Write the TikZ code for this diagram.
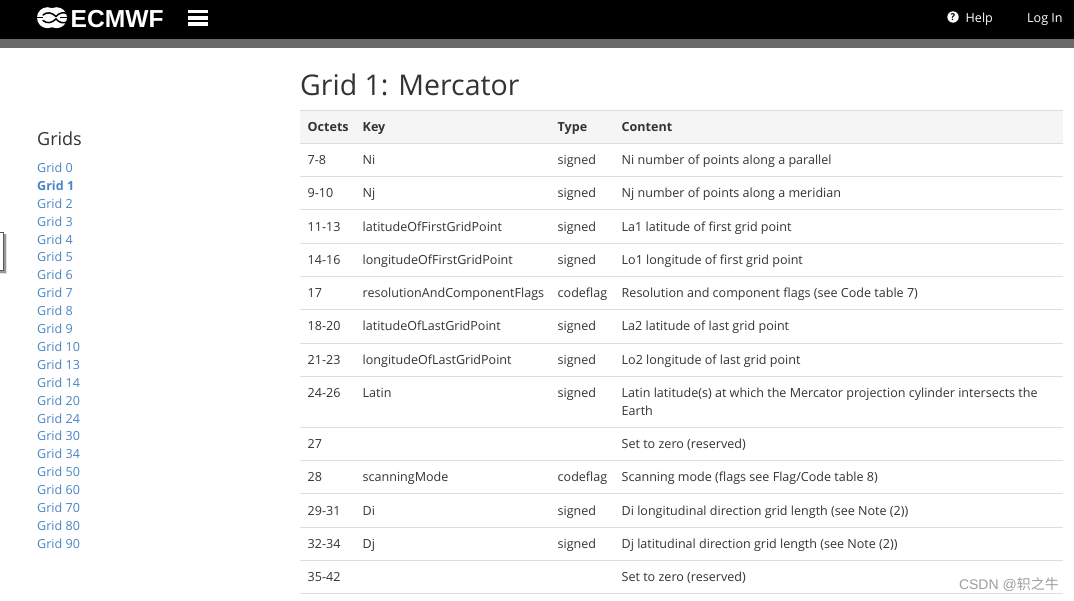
\documentclass[tikz,border=0pt]{standalone}
\usepackage{fontspec}
\setmainfont{Open Sans}
\newfontfamily\wmfont{Liberation Sans}
\newfontfamily\cjkfont{Noto Sans CJK SC}
\definecolor{txt}{HTML}{333333}
\definecolor{lnk}{HTML}{4A86C5}
\definecolor{rule}{HTML}{DDDDDD}
\definecolor{headbg}{HTML}{F5F5F5}
\definecolor{band}{HTML}{6A6A6A}
\tikzset{
  cell/.style={anchor=base west,inner sep=0pt,font=\fontsize{12.55}{13}\selectfont,text=txt},
  headcell/.style={cell,font=\fontsize{12.55}{13}\selectfont\bfseries},
  sidelink/.style={anchor=base west,inner sep=0pt,font=\fontsize{12.55}{13}\selectfont,text=lnk},
  toplink/.style={anchor=base west,inner sep=0pt,font=\fontsize{12.55}{13}\selectfont,text=white},
  tablerule/.style={draw=rule,line width=1pt}
}
\begin{document}
\begin{tikzpicture}[x=1pt,y=-1pt]
\useasboundingbox (0,0) rectangle (1074,600);
\fill[white] (0,0) rectangle (1074,600);
\fill[black] (0,0) rectangle (1074,39);
\fill[band] (0,39) rectangle (1074,48);
% logo
\fill[white] (47.5,17.7) circle (10.5);
\fill[white] (56.5,17.7) circle (10.5);
\draw[black,line width=1.5pt,line cap=round] (43,15) .. controls (47,11.5) and (52,12.5) .. (56,16.5) .. controls (59,13) and (63,11.5) .. (68,14);
\draw[black,line width=1.5pt,line cap=round] (43,20.5) .. controls (47,24) and (52,23) .. (56,19) .. controls (59,22.5) and (63,24) .. (68,21.5);
\fill[black] (36,17) rectangle (43,18.2);
\fill[black] (60,17) rectangle (68,18.2);
\node[anchor=base west,inner sep=0pt,text=white,font=\wmfont\bfseries\fontsize{24.6}{25}\selectfont] (brand) at (70.5,27) {ECMWF};
% hamburger
\fill[white] (188,9.5) rectangle (207.5,13);
\fill[white] (188,16) rectangle (207.5,19.5);
\fill[white] (188,22) rectangle (207.5,25.5);
% top links
\fill[white] (953,17) circle (5.7);
\node[inner sep=0pt,text=black,font=\fontsize{9.5}{9.5}\selectfont\bfseries] (helpicon) at (953,17) {?};
\node[toplink] (help) at (965.5,22) {Help};
\node[toplink] (login) at (1027,22) {Log In};
% heading
\node[anchor=base west,inner sep=0pt,text=txt,font=\fontsize{28.5}{30}\selectfont] (title) at (300,95) {Grid 1: Mercator};
% sidebar
\node[anchor=base west,inner sep=0pt,text=txt,font=\fontsize{18}{18}\selectfont] (grids) at (37,145) {Grids};
\foreach \lab [count=\i from 0] in {0,1,2,3,4,5,6,7,8,9,10,13,14,20,24,30,34,50,60,70,80,90}{
  \pgfmathsetmacro{\yy}{172.4+17.9*\i}
  \ifnum\i=1
    \node[sidelink,font=\fontsize{12.55}{13}\selectfont\bfseries] (g\i) at (37,\yy) {Grid \lab};
  \else
    \node[sidelink] (g\i) at (37,\yy) {Grid \lab};
  \fi
}
% stray window edge
\fill[black!12] (0,271) rectangle (7,274);
\fill[black!12] (4,234) rectangle (7,274);
\fill[black!40] (4,234) rectangle (5.5,272.5);
\fill[black!40] (0,271) rectangle (5.5,272.5);
\fill[black!65] (3.2,232) rectangle (4.4,271);
\fill[black!65] (0,270) rectangle (4.4,271);
\fill[black!65] (0,231.5) rectangle (4.4,232.5);
% table
\fill[headbg] (300,110) rectangle (1063,143);
\foreach \yy in {110.5,143.5,176.5,209.5,243.5,276.5,309.5,343.5,376.5,427.5,460.5,493.5,527.5,560.5,593.5}{
  \draw[tablerule] (300,\yy) -- (1063,\yy);
}
\node[headcell] at (307.5,131) {Octets};
\node[headcell] at (362.5,131) {Key};
\node[headcell] at (557.5,131) {Type};
\node[headcell] at (621.5,131) {Content};
\foreach \yy/\oc/\ky/\ty/\ct in {
 164/7-8/Ni/signed/Ni number of points along a parallel,
 197/9-10/Nj/signed/Nj number of points along a meridian,
 231/11-13/latitudeOfFirstGridPoint/signed/La1 latitude of first grid point,
 264/14-16/longitudeOfFirstGridPoint/signed/Lo1 longitude of first grid point,
 297/17/resolutionAndComponentFlags/codeflag/Resolution and component flags (see Code table 7),
 330/18-20/latitudeOfLastGridPoint/signed/La2 latitude of last grid point,
 364/21-23/longitudeOfLastGridPoint/signed/Lo2 longitude of last grid point,
 397/24-26/Latin/signed/Latin latitude(s) at which the Mercator projection cylinder intersects the,
 415/{}/{}/{}/Earth,
 448/27/{}/{}/Set to zero (reserved),
 481/28/scanningMode/codeflag/{Scanning mode (flags see Flag/Code table 8)},
 515/29-31/Di/signed/Di longitudinal direction grid length (see Note (2)),
 548/32-34/Dj/signed/Dj latitudinal direction grid length (see Note (2)),
 581/35-42/{}/{}/Set to zero (reserved)}{
  \node[cell] at (307.5,\yy) {\oc};
  \node[cell] at (362.5,\yy) {\ky};
  \node[cell] at (557.5,\yy) {\ty};
  \node[cell] at (621.5,\yy) {\ct};
}
% watermark
\node[anchor=base east,inner sep=0pt,text=black!38,font=\fontsize{14}{14}\selectfont] (wm) at (1059,589) {{\wmfont CSDN @}{\cjkfont 轵之牛}};
\end{tikzpicture}
\end{document}
